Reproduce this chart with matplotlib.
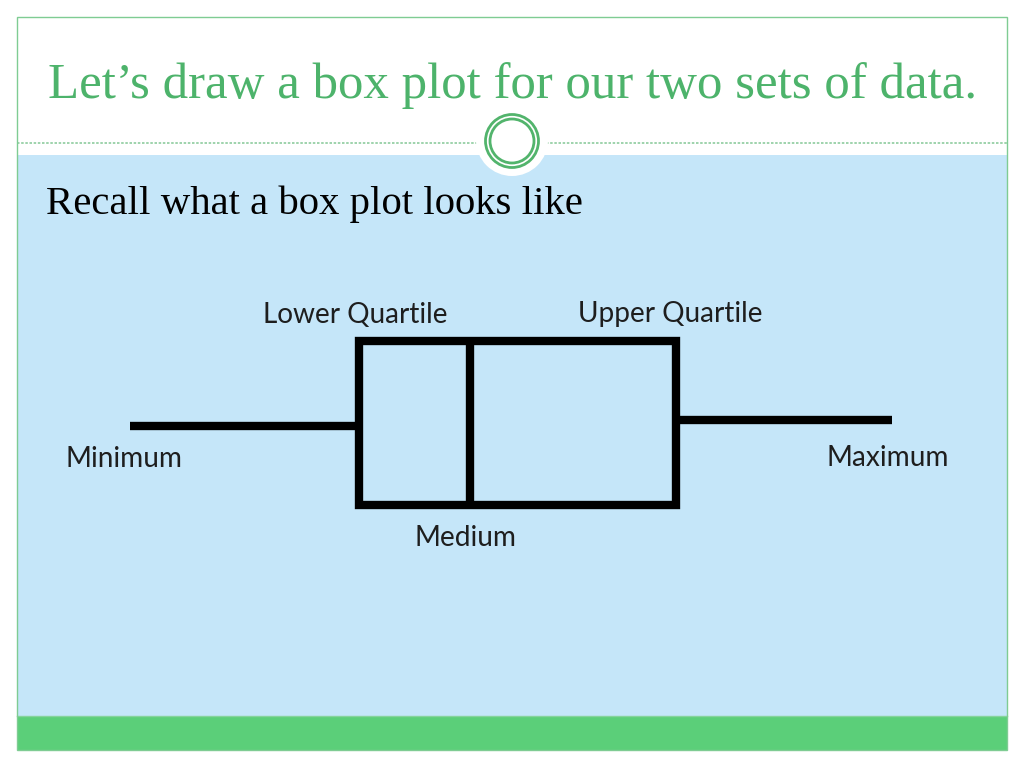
import matplotlib
matplotlib.use("Agg")
import matplotlib.pyplot as plt
from matplotlib.patches import Rectangle, Circle

# ---- data ----
stat_names = ["Minimum", "Lower Quartile", "Medium", "Upper Quartile", "Maximum"]
stat_values = [10, 34, 45.7, 67.3, 90]
title_text = "Let\u2019s draw a box plot for our two sets of data."
subtitle_text = "Recall what a box plot looks like"

GREEN_TXT = "#4DB36B"
GREEN_BAR = "#5BCF79"
GREEN_LINE = "#7FCC93"
BLUE = "#C5E6F9"

fig = plt.figure(figsize=(10.24, 7.68), dpi=100)
fig.patch.set_facecolor("white")

# background axes in pixel coordinates
bg = fig.add_axes([0, 0, 1, 1])
bg.set_xlim(0, 1024)
bg.set_ylim(768, 0)
bg.axis("off")

# blue content area
bg.add_patch(Rectangle((17, 155), 990, 561, facecolor=BLUE, edgecolor="none", zorder=1))
# green bottom bar
bg.add_patch(Rectangle((17, 716), 990, 34, facecolor=GREEN_BAR, edgecolor="none", zorder=1))
bg.plot([17, 1007], [716, 716], color="#86D39C", lw=1, zorder=2)
# slide frame
bg.add_patch(Rectangle((17, 17), 990, 733, facecolor="none", edgecolor=GREEN_LINE, lw=1, zorder=3))
# dotted separator
bg.plot([17, 478], [143, 143], color="#8DCC9E", lw=1.2, ls=(0, (1.5, 1)), zorder=2)
bg.plot([546, 1007], [143, 143], color="#8DCC9E", lw=1.2, ls=(0, (1.5, 1)), zorder=2)
# white disc and double ring
bg.add_patch(Circle((512, 140), 36, facecolor="white", edgecolor="none", zorder=3))
bg.add_patch(Circle((512, 141), 26.5, facecolor="none", edgecolor="#52B46C", lw=2, zorder=4))
bg.add_patch(Circle((512, 141), 22, facecolor="none", edgecolor="#52B46C", lw=2, zorder=4))

# title and subtitle
bg.text(48, 98, title_text, fontsize=36.6, family="Liberation Serif", color=GREEN_TXT,
        va="baseline", ha="left", zorder=5)
bg.text(46, 214, subtitle_text, fontsize=29.3, family="Liberation Serif", color="black",
        va="baseline", ha="left", zorder=5)

# ---- box plot diagram ----
ax = fig.add_axes([130 / 1024, (768 - 505) / 768, (892 - 130) / 1024, 164 / 768])
ax.set_xlim(stat_values[0], stat_values[-1])
ax.set_ylim(0, 1)
ax.axis("off")

mn, q1, med, q3, mx = stat_values
lw = 6
kw = dict(color="black", lw=lw, clip_on=False, solid_capstyle="butt", zorder=5)
ax.plot([mn, q1], [0.482, 0.482], **kw)
ax.plot([q3, mx], [0.518, 0.518], **kw)
ax.add_patch(Rectangle((q1, 0), q3 - q1, 1, facecolor="none", edgecolor="black",
                       lw=lw, clip_on=False, joinstyle="miter", zorder=5))
ax.plot([med, med], [0, 1], **kw)

label_y = {"Minimum": 0.232, "Lower Quartile": 1.11, "Medium": -0.25,
           "Upper Quartile": 1.116, "Maximum": 0.238}
label_dx = {"Minimum": -0.6, "Lower Quartile": -0.3, "Medium": -0.5,
            "Upper Quartile": -0.6, "Maximum": -0.4}
for name, val in zip(stat_names, stat_values):
    ax.text(val + label_dx[name], label_y[name], name, fontsize=20.2, family="Lato",
            color="#1E1E1E", ha="center", va="baseline", transform=ax.transData,
            clip_on=False, zorder=6)

fig.savefig("out.png", dpi=100)
